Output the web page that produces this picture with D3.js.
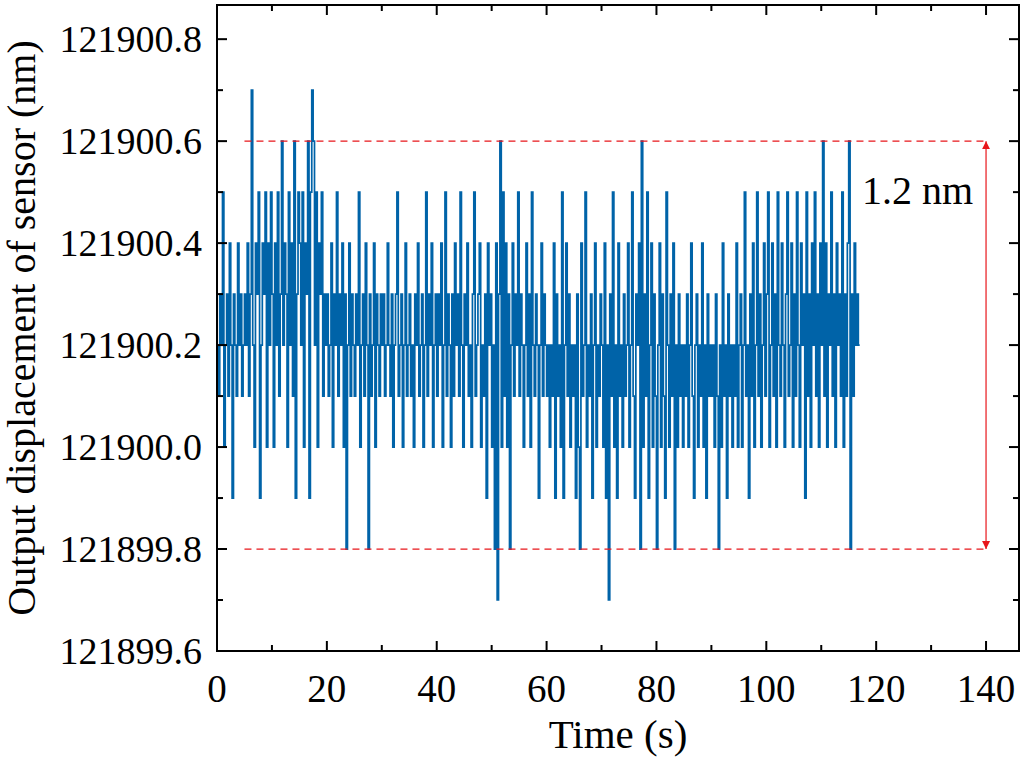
<!DOCTYPE html><html><head><meta charset="utf-8">
<script src="https://cdn.jsdelivr.net/npm/d3@7"></script>
<style>body{margin:0;background:#fff}text{font-family:"Liberation Serif",serif;fill:#000}</style></head><body>
<svg id="c" width="1025" height="764"></svg>
<script>
const BASE = 121900.0, STEP = 0.25; // value = BASE + tenths*0.1, time = index*STEP
const tenths = [
2,1,3,2,5,0,2,3,1,4,2,-1,3,2,1,4,2,3,1,2,
3,2,4,1,3,7,2,0,4,3,5,-1,2,4,3,5,0,4,2,5,
3,0,4,2,5,1,3,6,2,4,3,0,5,2,4,1,6,-1,3,5,
4,2,5,0,4,3,6,-1,5,7,6,2,5,0,4,3,5,1,3,2,
3,1,2,4,0,3,2,5,1,3,2,4,0,3,-2,2,4,1,3,2,
1,3,2,5,0,2,3,1,4,2,-2,3,1,2,4,0,3,2,1,3,
2,3,1,2,4,2,1,3,0,2,3,5,1,2,3,0,2,4,1,2,
3,1,2,0,3,2,4,1,2,3,0,2,5,1,3,2,4,0,2,3,
1,3,2,4,0,2,5,1,3,2,0,3,1,4,2,3,1,5,2,0,
3,2,4,1,2,0,3,5,1,2,3,4,0,2,1,3,-1,4,2,3,
0,2,-2,4,-3,3,6,0,5,1,4,0,3,-2,2,4,1,3,2,5,
1,3,2,0,2,4,1,3,0,5,2,1,3,2,-1,2,4,1,3,2,
1,2,0,2,1,4,-1,3,1,2,0,5,-1,2,4,1,3,0,2,1,
2,-1,3,0,-2,4,1,2,5,0,2,1,3,-1,2,4,0,2,1,3,
2,0,4,-1,2,-3,3,1,5,0,2,-1,4,1,2,0,3,1,2,4,
0,2,5,1,-1,3,2,4,-2,6,0,3,1,5,-1,2,4,0,3,1,
-2,2,4,0,3,1,-1,5,2,0,3,1,4,-2,2,0,3,1,2,0,
2,1,3,0,2,4,1,-1,2,3,0,2,1,4,0,2,-1,3,1,2,
1,2,0,3,1,-2,2,0,4,1,2,-1,3,1,2,0,2,1,4,0,
2,3,0,2,5,1,2,-1,3,1,4,0,2,5,1,3,0,2,4,1,
3,5,0,2,4,1,3,0,5,2,1,4,2,0,3,5,1,2,4,0,
3,1,5,2,0,4,2,3,-1,5,1,3,0,4,2,5,1,3,0,4,
2,6,1,4,0,3,2,5,1,3,0,4,2,3,1,5,0,3,1,4,
6,-2,3,1,4,2,3,2,2];
const xTicks = [0,20,40,60,80,100,120,140];
const yTicks = [121899.6,121899.8,121900.0,121900.2,121900.4,121900.6,121900.8];
const refLines = [121900.6,121899.8];
const refStart = 5, arrowX = 140;
const annotation = "1.2 nm";

const svg = d3.select("#c");
const L=217,R=1019,T=5,B=651;
const x = d3.scaleLinear().domain([0,146]).range([L,R]);
const y = d3.scaleLinear().domain([121899.6,121900.867]).range([B,T]);

const data = tenths.map((v,i)=>({t:i*STEP, v:+(BASE+v*0.1).toFixed(1)}));
const g = svg.append("g");
g.append("clipPath").attr("id","cp").append("rect").attr("x",L).attr("y",T).attr("width",R-L).attr("height",B-T);
g.append("path").datum(data).attr("clip-path","url(#cp)").attr("fill","none").attr("stroke","#0063a8").attr("stroke-width",1.7)
 .attr("d",d3.line().x(d=>x(d.t)).y(d=>y(d.v)).curve(d3.curveStepAfter));

refLines.forEach(v=>g.append("line").attr("x1",x(refStart)).attr("x2",x(arrowX)).attr("y1",y(v)).attr("y2",y(v))
  .attr("stroke","#e8161b").attr("stroke-width",1.3).attr("stroke-dasharray","7,5"));
const defs=svg.append("defs");
defs.append("marker").attr("id","ah").attr("viewBox","0 0 10 10").attr("refX",10).attr("refY",5).attr("markerWidth",8).attr("markerHeight",12)
 .attr("markerUnits","userSpaceOnUse").attr("orient","auto-start-reverse").append("path").attr("d","M0,0L10,5L0,10Z").attr("fill","#e8161b");
g.append("line").attr("x1",x(arrowX)).attr("x2",x(arrowX)).attr("y1",y(refLines[1])).attr("y2",y(refLines[0]))
 .attr("stroke","#e8161b").attr("stroke-width",1.2).attr("marker-start","url(#ah)").attr("marker-end","url(#ah)");
g.append("text").attr("x",862).attr("y",204).attr("font-size",40).text(annotation);

svg.append("rect").attr("x",L).attr("y",T).attr("width",R-L).attr("height",B-T).attr("fill","none").attr("stroke","#000").attr("stroke-width",2);
const xMinor=d3.range(10,146,20), yMinor=d3.range(0,13).map(i=>121899.7+i*0.2).filter(v=>v<121900.86);
const tk=(x1,y1,x2,y2)=>svg.append("line").attr("x1",x1).attr("y1",y1).attr("x2",x2).attr("y2",y2).attr("stroke","#000").attr("stroke-width",2);
xTicks.forEach(v=>{tk(x(v),B,x(v),B-10);tk(x(v),T,x(v),T+10);
  svg.append("text").attr("x",x(v)).attr("y",B+51).attr("text-anchor","middle").attr("font-size",39).text(v);});
xMinor.forEach(v=>{tk(x(v),B,x(v),B-6);tk(x(v),T,x(v),T+6);});
yTicks.forEach(v=>{tk(L,y(v),L+10,y(v));tk(R,y(v),R-10,y(v));
  svg.append("text").attr("x",L-15).attr("y",y(v)+13).attr("text-anchor","end").attr("font-size",38).text(v.toFixed(1));});
yMinor.forEach(v=>{tk(L,y(v),L+6,y(v));tk(R,y(v),R-6,y(v));});
svg.append("text").attr("x",618).attr("y",748).attr("text-anchor","middle").attr("font-size",41).text("Time (s)");
svg.append("text").attr("transform",`translate(35,${(T+B)/2}) rotate(-90)`).attr("text-anchor","middle").attr("font-size",40).text("Output displacement of sensor (nm)");
</script></body></html>
